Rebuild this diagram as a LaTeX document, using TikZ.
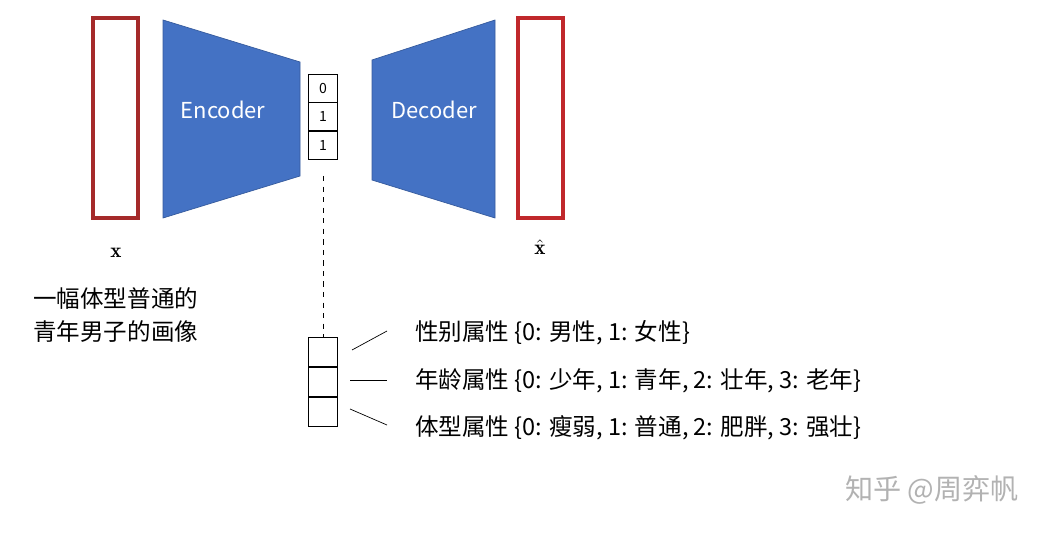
\documentclass[tikz,border=0pt]{standalone}
\usepackage{fontspec}
\setsansfont{Open Sans}
\newfontfamily\cjk{Noto Sans CJK SC}
\begin{document}
\begin{tikzpicture}[x=0.02cm,y=-0.02cm,
  redbox/.style={draw=#1,line width=2.2pt},
  coder/.style={fill=codeblue,draw=codeblue!80!black,line width=0.4pt},
  cell/.style={draw,line width=0.5pt,minimum width=0.58cm,minimum height=0.58cm,inner sep=0pt,font=\cjk\footnotesize},
  lbl/.style={anchor=west,font=\cjk\fontsize{13.4}{16}\selectfont,inner sep=0pt}]
\definecolor{codeblue}{HTML}{4472C4}
\definecolor{darkred}{HTML}{A52A2A}
\definecolor{brightred}{HTML}{C0282B}
\useasboundingbox (0,0) rectangle (1060,533);
\draw[redbox=darkred] (93,18) rectangle (138,218);
\draw[redbox=brightred] (518,18) rectangle (563,218);
\fill[coder] (163,20) -- (300,62) -- (300,176) -- (163,218) -- cycle;
\fill[coder] (372,60) -- (495,20) -- (495,218) -- (372,180) -- cycle;
\node[text=white,font=\cjk\fontsize{12.5}{15}\selectfont] (enc) at (223,110) {Encoder};
\node[text=white,font=\cjk\fontsize{12.5}{15}\selectfont] (dec) at (434,110) {Decoder};
\node[cell,minimum height=0.56cm] (c0) at (323,88) {0};
\node[cell,minimum height=0.56cm,anchor=north] (c1) at (c0.south) {1};
\node[cell,minimum height=0.56cm,anchor=north] (c2) at (c1.south) {1};
\node[font=\large] (x) at (116,253) {$\mathbf{x}$};
\node[font=\large] (xh) at (540,247) {$\hat{\mathbf{x}}$};
\node[anchor=west,align=left,font=\cjk\fontsize{13.4}{16}\selectfont,inner sep=0pt] (desc) at (33,315) {一幅体型普通的\\[3pt]青年男子的画像};
\node[cell] (a0) at (323,352) {};
\node[cell,anchor=north] (a1) at (a0.south) {};
\node[cell,anchor=north] (a2) at (a1.south) {};
\coordinate (dtop) at (323,176);
\draw[dashed] (dtop) -- (a0.north);
\node[lbl] (t0) at (415,333) {性别属性 \{0: 男性, 1: 女性\}};
\node[lbl] (t1) at (415,381) {年龄属性 \{0: 少年, 1: 青年, 2: 壮年, 3: 老年\}};
\node[lbl] (t2) at (415,428) {体型属性 \{0: 瘦弱, 1: 普通, 2: 肥胖, 3: 强壮\}};
\coordinate (l0) at (352,350); \coordinate (r0) at (387,331);
\coordinate (l1) at (350,380); \coordinate (r1) at (387,380);
\coordinate (l2) at (350,409); \coordinate (r2) at (387,425);
\draw (l0) -- (r0); \draw (l1) -- (r1); \draw (l2) -- (r2);
\node[font=\cjk\fontsize{16}{19}\selectfont,text=gray!60] (wm) at (932,490) {知乎 @周弈帆};
\end{tikzpicture}
\end{document}
